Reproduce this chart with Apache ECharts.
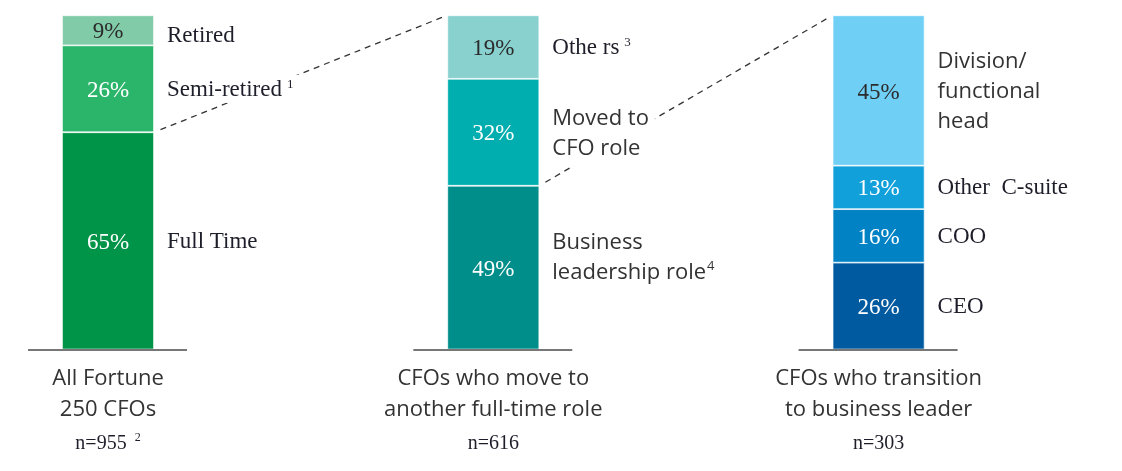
<!DOCTYPE html>
<html><head><meta charset="utf-8">
<script src="https://cdn.jsdelivr.net/npm/echarts@6/dist/echarts.min.js"></script>
<style>html,body{margin:0;padding:0;background:#fff}#c{width:1122px;height:471px}</style>
</head><body><div id="c"></div>
<script>
// ---------- data ----------
const categories = ['All Fortune\n250 CFOs', 'CFOs who move to\nanother full-time role', 'CFOs who transition\nto business leader'];
const sampleSizes = ['n=955', 'n=616', 'n=303'];
const sampleNotes = ['2', '', ''];

// segments listed bottom -> top
const fortuneValues = [65, 26, 9];
const fortuneLabels = ['Full Time', 'Semi-retired', 'Retired'];
const fortuneNotes  = ['', '1', ''];

const movedValues = [49, 32, 19];
const movedLabels = ['Business\nleadership role', 'Moved to\nCFO role', 'Othe rs'];
const movedNotes  = ['4', '', '3'];

const leaderValues = [26, 16, 13, 45];
const leaderLabels = ['CEO', 'COO', 'Other  C-suite', 'Division/\nfunctional\nhead'];
const leaderNotes  = ['', '', '', ''];

// ---------- styles ----------
const palette = [
  ['#009448', '#2BB56A', '#82CBA9'],
  ['#008E8A', '#00ADAF', '#88D1CE'],
  ['#005A9F', '#0082C4', '#12A0DA', '#70CFF5']
];
const darkText = [[2], [2], [3]];           // segments whose % label is dark
const sansLabels = [[], [0, 1], [3]];        // segments whose name uses sans font
const labelNudge = {'1-0': -11, '0-2': 5};   // vertical fine-tuning (px)
const SERIF = '"Liberation Serif", "Times New Roman", serif';
const SANS = '"Open Sans", "Noto Sans", sans-serif';
const BAR_W = 92;

const bars = [
  {values: fortuneValues, labels: fortuneLabels, notes: fortuneNotes},
  {values: movedValues, labels: movedLabels, notes: movedNotes},
  {values: leaderValues, labels: leaderLabels, notes: leaderNotes}
];
const levels = Math.max(...bars.map(b => b.values.length));

const series = [];
for (let k = 0; k < levels; k++) {
  series.push({
    type: 'bar', stack: 'total', barWidth: BAR_W, silent: true,
    itemStyle: {borderColor: 'rgba(255,255,255,0.85)', borderWidth: 0.8},
    label: {show: true, position: 'inside', fontFamily: SERIF, fontSize: 23, offset: [0, 2],
            formatter: p => p.value + '%'},
    data: bars.map((b, i) => b.values[k] == null ? '-' : {
      value: b.values[k],
      itemStyle: {color: palette[i][k]},
      label: {color: darkText[i].includes(k) ? '#2b2b2b' : '#ffffff'}
    })
  });
}

// baselines
series.push({
  type: 'custom', z: 3, silent: true,
  data: categories.map((c, i) => [i, 0]),
  renderItem: (params, api) => {
    const p = api.coord([api.value(0), 0]);
    return {type: 'line', shape: {x1: p[0] - 80, y1: p[1] + 0.5, x2: p[0] + 79, y2: p[1] + 0.5},
            style: {stroke: '#4a4a4a', lineWidth: 1.6}};
  }
});

// connectors: from a segment top of one bar to the top of the next bar
const connectors = [
  [0, fortuneValues[0], 1, movedValues.reduce((a, b) => a + b, 0)],
  [1, movedValues[0], 2, leaderValues.reduce((a, b) => a + b, 0)]
];
series.push({
  type: 'custom', z: 1, silent: true,
  data: connectors,
  encode: {x: 0, y: 1},
  renderItem: (params, api) => {
    const a = api.coord([api.value(0), api.value(1)]);
    const b = api.coord([api.value(2), api.value(3)]);
    const x1 = a[0] + BAR_W / 2, y1 = a[1], x2 = b[0] - BAR_W / 2, y2 = b[1];
    const dx = x2 - x1, dy = y2 - y1, len = Math.hypot(dx, dy);
    const s = 7 / len, e = 4 / len;
    return {type: 'line',
      shape: {x1: x1 + dx * s, y1: y1 + dy * s, x2: x2 - dx * e, y2: y2 - dy * e},
      style: {stroke: '#333', lineWidth: 1.3, lineDash: [6, 5]}};
  }
});

// segment name labels
const nameItems = [];
bars.forEach((b, i) => {
  let acc = 0;
  b.values.forEach((v, k) => { nameItems.push([i, acc, acc + v, k]); acc += v; });
});
series.push({
  type: 'custom', z: 5, silent: true,
  data: nameItems,
  encode: {x: 0, y: 2},
  renderItem: (params, api) => {
    const i = api.value(0), k = api.value(3);
    const mid = (api.value(1) + api.value(2)) / 2;
    const p = api.coord([i, mid]);
    const b = bars[i];
    const sans = sansLabels[i].includes(k);
    const st = sans ? 't' : 's';
    const lines = b.labels[k].split('\n').map(l => `{${st}|${l}}`);
    if (b.notes[k]) lines[lines.length - 1] += `{${sans ? 'supS' : 'sup'}|${b.notes[k]}}`;
    const nudge = (sans ? 1 : 0) + (labelNudge[i + '-' + k] || 0);
    return {type: 'text', x: p[0] + BAR_W / 2 + 9, y: p[1] + nudge,
      style: {
        text: lines.join('\n'), align: 'left', verticalAlign: 'middle',
        backgroundColor: '#fff', padding: sans ? [3, 6, 3, 4] : [2, 6, 0, 4],
        rich: {
          s: {fontFamily: SERIF, fontSize: 23, lineHeight: 26, fill: '#1e1e2a', color: '#1e1e2a'},
          t: {fontFamily: SANS, fontSize: 22, lineHeight: 30, fill: '#333', color: '#333'},
          sup: {fontFamily: SERIF, fontSize: 13, lineHeight: 13, verticalAlign: 'middle', fill: '#1e1e2a', color: '#1e1e2a', padding: [0, 0, 10, 5]},
          supS: {fontFamily: SANS, fontSize: 13, lineHeight: 13, verticalAlign: 'top', fill: '#333', color: '#333', padding: [2, 0, 0, 1]}
        }
      }};
  }
});

const chart = echarts.init(document.getElementById('c'));
chart.setOption({
  animation: false,
  backgroundColor: '#fff',
  grid: {left: 108, right: 243.4, top: 15.3, bottom: 121.5, containLabel: false},
  xAxis: {
    type: 'category', data: categories, boundaryGap: false,
    axisLine: {show: false}, axisTick: {show: false}, splitLine: {show: false},
    axisLabel: {
      interval: 0, margin: 14,
      formatter: (value, idx) => value.split('\n').map(l => `{a|${l}}`).join('\n') +
        `\n{n|${sampleSizes[idx]}}` + (sampleNotes[idx] ? `{ns|${sampleNotes[idx]}}` : ''),
      rich: {
        a: {fontFamily: SANS, fontSize: 22, lineHeight: 31, color: '#333'},
        n: {fontFamily: SERIF, fontSize: 20, lineHeight: 36, color: '#1e1e2a'},
        ns: {fontFamily: SERIF, fontSize: 12, lineHeight: 12, verticalAlign: 'middle', color: '#1e1e2a', padding: [0, 0, 12, 8]}
      }
    }
  },
  yAxis: {type: 'value', min: 0, max: 100, show: false},
  series
});
</script></body></html>
